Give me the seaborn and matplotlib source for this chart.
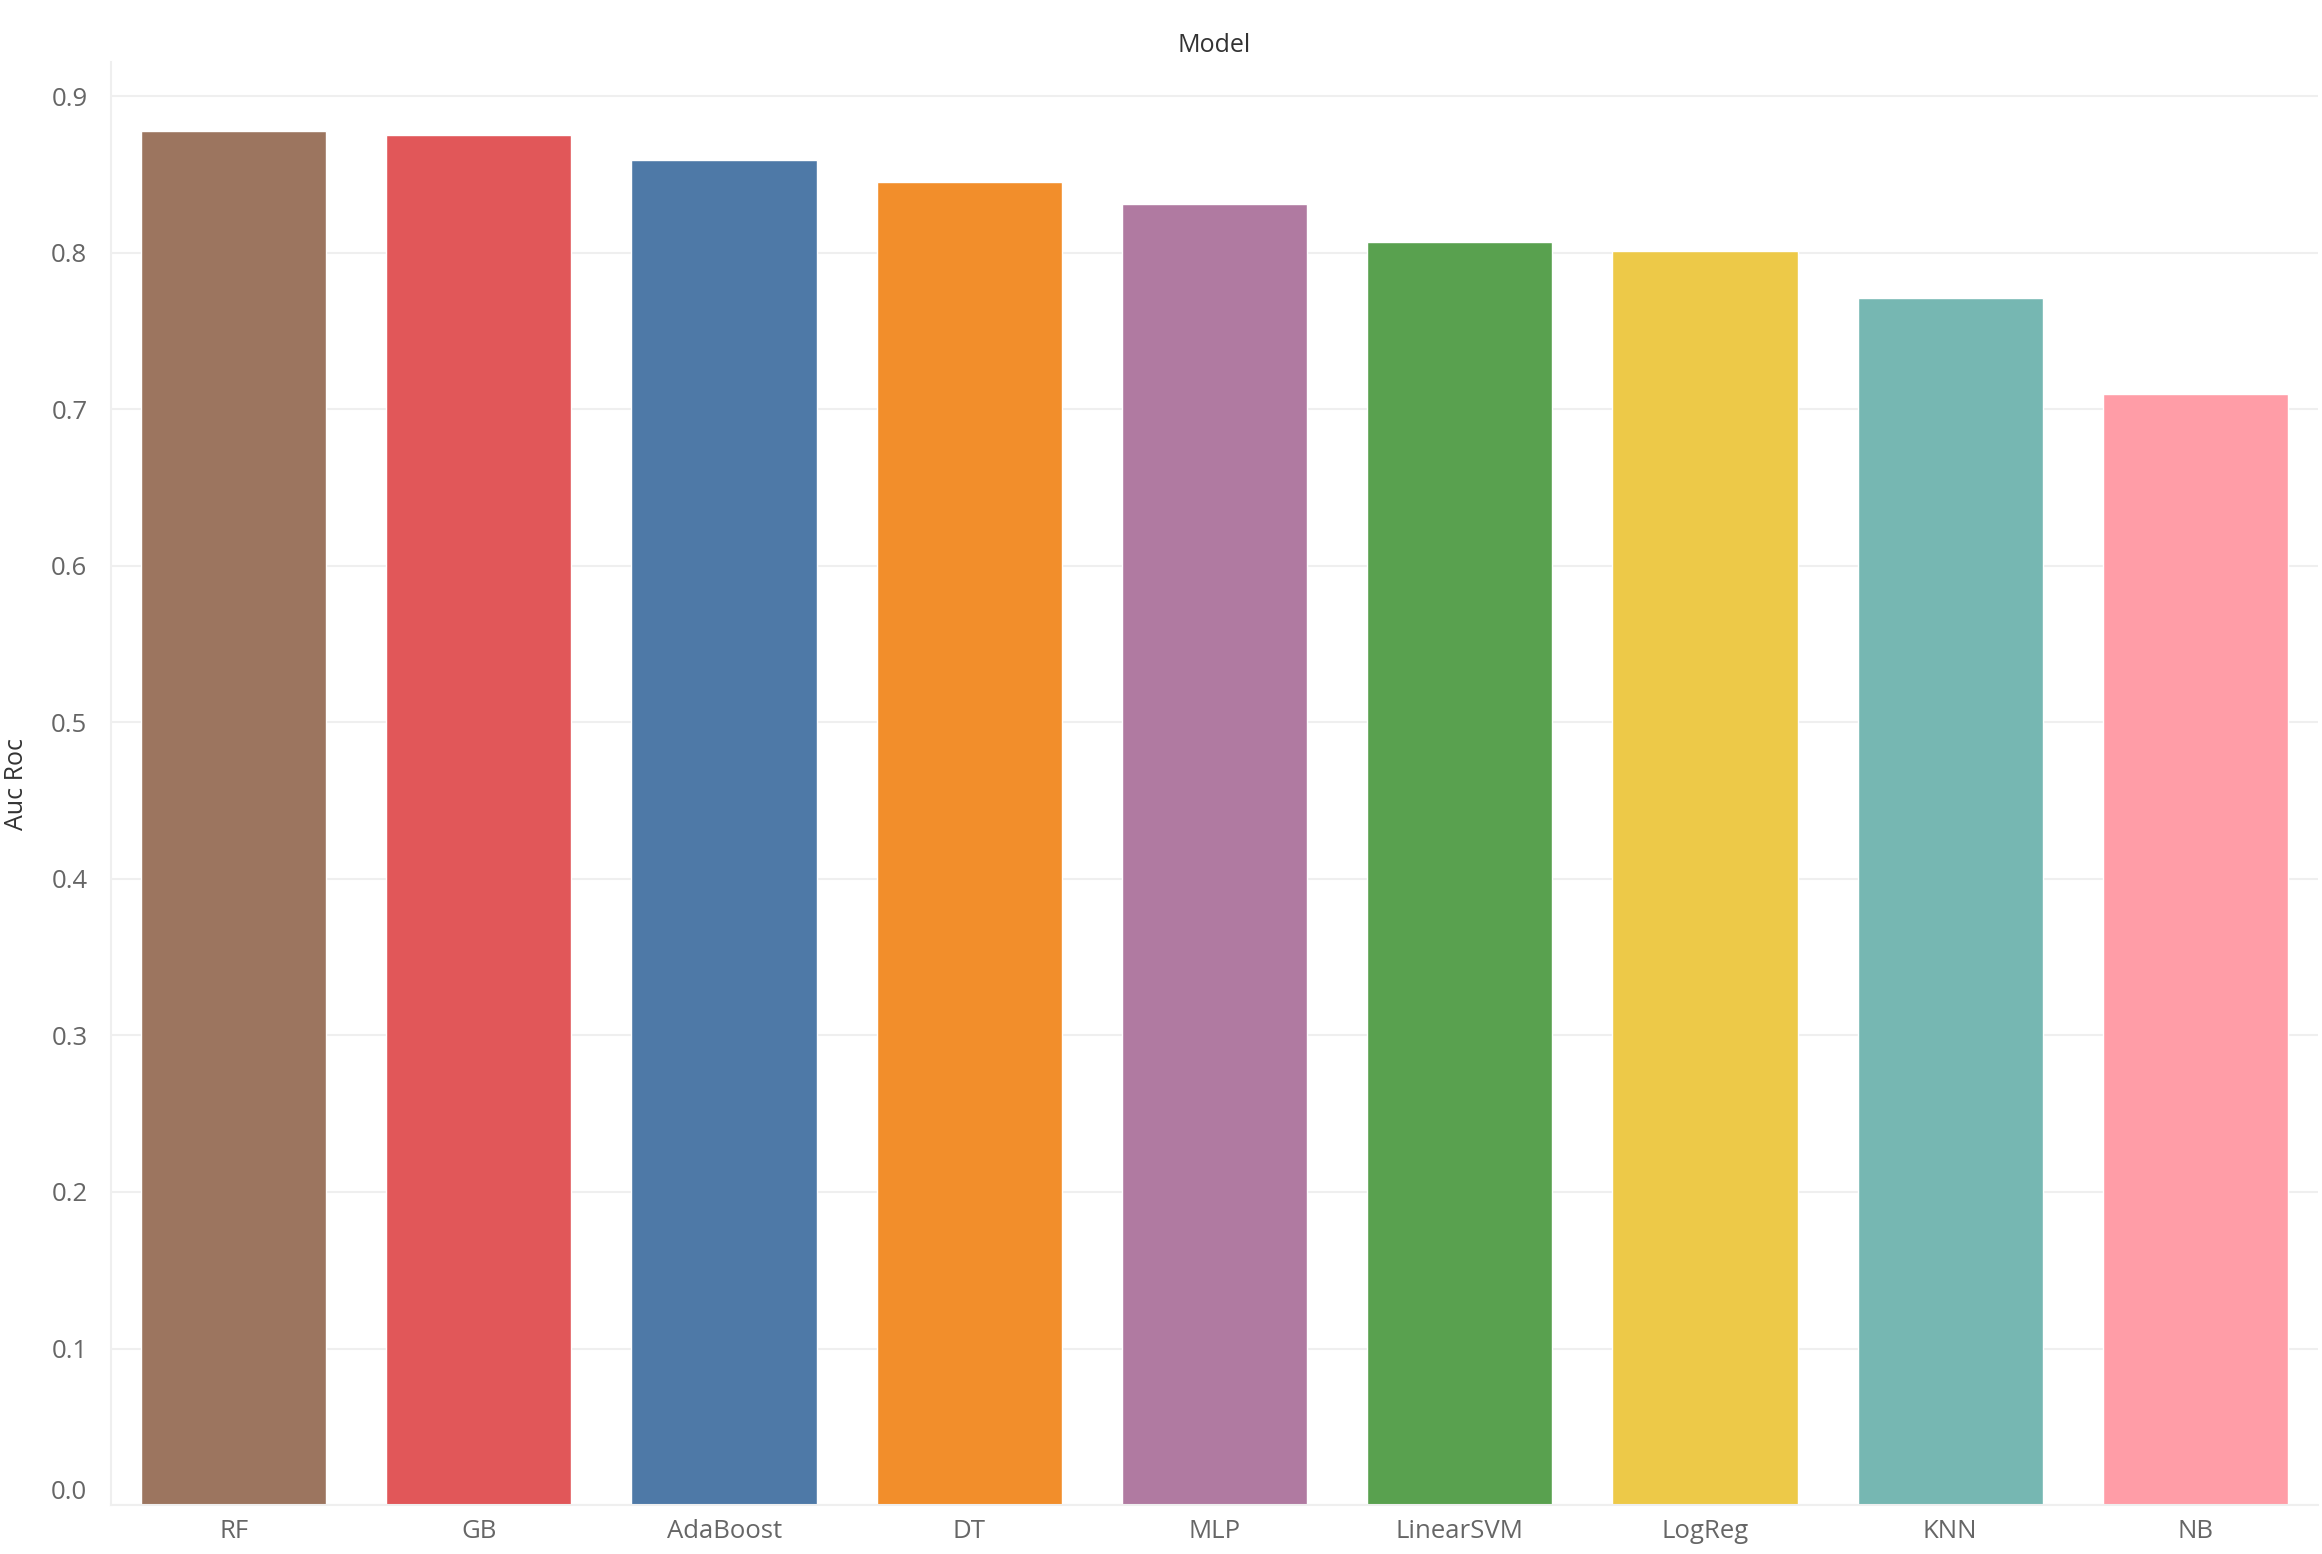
import numpy as np
import pandas as pd
import matplotlib
matplotlib.use("Agg")
import matplotlib.pyplot as plt
import seaborn as sns

# values
models = ["RF", "GB", "AdaBoost", "DT", "MLP", "LinearSVM", "LogReg", "KNN", "NB"]
auc_roc = [0.878, 0.875, 0.859, 0.845, 0.831, 0.807, 0.801, 0.771, 0.710]
colors = ["#9C755F", "#E15759", "#4E79A7", "#F28E2B", "#B07AA1",
          "#59A14F", "#EDC948", "#76B7B2", "#FF9DA7"]
yticks = [0.0, 0.1, 0.2, 0.3, 0.4, 0.5, 0.6, 0.7, 0.8, 0.9]

df = pd.DataFrame({"Model": models, "Auc Roc": auc_roc})

sns.set_style("white")
plt.rcParams["font.family"] = ["Open Sans", "DejaVu Sans"]

fig = plt.figure(figsize=(23.22, 15.54), dpi=100)
ax = fig.add_axes([0.0478, 0.0315, 0.9505, 0.9285])

sns.barplot(
    data=df,
    x="Model",
    y="Auc Roc",
    hue="Model",
    palette=dict(zip(models, colors)),
    order=models,
    width=0.755,
    legend=False,
    saturation=1,
    ax=ax,
)

grid_col = "#efefef"
ax.set_ylim(0, 0.9217)
ax.set_xlim(-0.5, len(models) - 0.5)
ax.set_yticks(yticks)
ax.set_yticklabels([f"{t:.1f}" for t in yticks])
ax.yaxis.grid(True, color=grid_col, linewidth=1.5)
ax.set_axisbelow(True)

for side in ["top", "right"]:
    ax.spines[side].set_visible(False)
for side in ["left", "bottom"]:
    ax.spines[side].set_color(grid_col)
    ax.spines[side].set_linewidth(1.5)

ax.tick_params(axis="y", length=9, width=1.5, color=grid_col,
               labelsize=18.5, labelcolor="#666666", pad=8)
ax.tick_params(axis="x", length=0, labelsize=18.5, labelcolor="#666666", pad=10)

# tableau nudges the bottom label up off the axis line
ax.get_yticklabels()[0].set_verticalalignment("bottom")

# small ticks at the category boundaries
ax.set_xticks(np.arange(len(models) + 1) - 0.5, minor=True)
ax.tick_params(axis="x", which="minor", length=8, width=1.5, color=grid_col)

ax.set_xlabel("")
ax.set_ylabel("Auc Roc", fontsize=18, color="#333333")
ax.yaxis.set_label_coords(-0.037, 0.5)

ax.set_title("Model", fontsize=18, color="#333333", pad=7)

fig.savefig("out.png", dpi=100)
